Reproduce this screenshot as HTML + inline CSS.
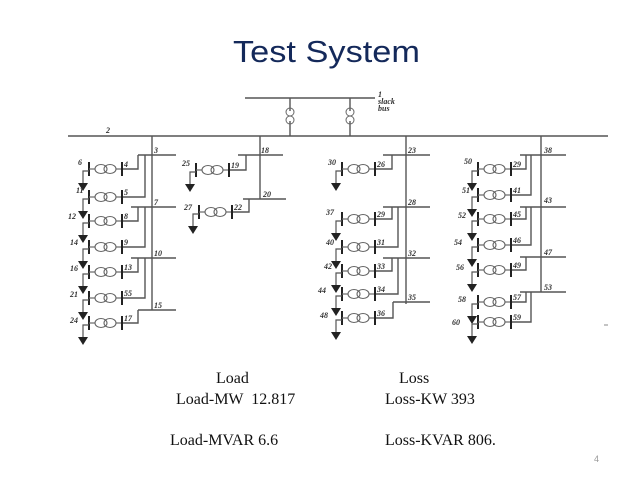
<!DOCTYPE html>
<html><head><meta charset="utf-8"><style>
html,body{margin:0;padding:0;background:#fff;}
svg{display:block}
.n{font-family:"Liberation Serif",serif;font-style:italic;font-weight:bold;font-size:8px;fill:#333}
.t{font-family:"Liberation Serif",serif;font-size:16px;fill:#111}
</style></head><body>
<svg width="638" height="479" viewBox="0 0 638 479" xmlns="http://www.w3.org/2000/svg">
<defs>
<g id="u">
<line x1="0" y1="-7" x2="0" y2="7" stroke="#222" stroke-width="2"/>
<line x1="0" y1="0" x2="6" y2="0" stroke="#666" stroke-width="1.2"/>
<ellipse cx="12" cy="0" rx="6" ry="4.5" fill="none" stroke="#666" stroke-width="1.1"/>
<ellipse cx="21" cy="0" rx="6" ry="4.5" fill="none" stroke="#666" stroke-width="1.1"/>
<line x1="27" y1="0" x2="33" y2="0" stroke="#666" stroke-width="1.2"/>
<line x1="33" y1="-7" x2="33" y2="7" stroke="#222" stroke-width="2"/>
<polyline points="0,2 -6,2 -6,14" fill="none" stroke="#555" stroke-width="1.2"/>
<polygon points="-11,14 -1,14 -6,22" fill="#222"/>
</g>
<g id="t">
<ellipse cx="0" cy="-4" rx="4" ry="4" fill="none" stroke="#666" stroke-width="1"/>
<ellipse cx="0" cy="4" rx="4" ry="4" fill="none" stroke="#666" stroke-width="1"/>
</g>
</defs>
<text x="233" y="62" textLength="187" lengthAdjust="spacingAndGlyphs" style="font-family:'Liberation Sans',sans-serif;font-size:31px;fill:#14295a">Test System</text>

<g stroke="#555" stroke-width="1.4" fill="none">
<line x1="245" y1="98" x2="375" y2="98"/>
<line x1="290" y1="98" x2="290" y2="111"/><line x1="290" y1="121" x2="290" y2="136"/>
<line x1="350" y1="98" x2="350" y2="111"/><line x1="350" y1="121" x2="350" y2="136"/>
<line x1="68" y1="136" x2="608" y2="136"/>
<line x1="152" y1="136" x2="152" y2="310"/>
<line x1="138" y1="155" x2="176" y2="155"/>
<line x1="131" y1="207" x2="176" y2="207"/>
<line x1="131" y1="258" x2="176" y2="258"/>
<line x1="138" y1="310" x2="176" y2="310"/>
<polyline points="122,169 138,169 138,155"/>
<polyline points="122,197 145,197 145,155"/>
<polyline points="122,221 138,221 138,207"/>
<polyline points="122,247 145,247 145,207"/>
<polyline points="122,272 138,272 138,258"/>
<polyline points="122,298 145,298 145,258"/>
<polyline points="122,323 138,323 138,310"/>
<line x1="260" y1="136" x2="260" y2="199"/>
<line x1="238" y1="155" x2="283" y2="155"/>
<line x1="243" y1="199" x2="286" y2="199"/>
<polyline points="229,170 246,170 246,155"/>
<polyline points="232,212 249,212 249,199"/>
<line x1="406" y1="136" x2="406" y2="304"/>
<line x1="383" y1="155" x2="430" y2="155"/>
<line x1="383" y1="207" x2="430" y2="207"/>
<line x1="383" y1="258" x2="430" y2="258"/>
<line x1="393" y1="302" x2="430" y2="302"/>
<polyline points="375,169 392,169 392,155"/>
<polyline points="375,219 392,219 392,207"/>
<polyline points="375,247 398,247 398,207"/>
<polyline points="375,271 392,271 392,258"/>
<polyline points="375,294 398,294 398,258"/>
<polyline points="375,318 393,318 393,302"/>
<line x1="541" y1="136" x2="541" y2="292"/>
<line x1="520" y1="155" x2="566" y2="155"/>
<line x1="520" y1="207" x2="566" y2="207"/>
<line x1="520" y1="257" x2="566" y2="257"/>
<line x1="520" y1="292" x2="566" y2="292"/>
<polyline points="511,169 526,169 526,155"/>
<polyline points="511,195 531,195 531,155"/>
<polyline points="511,219 526,219 526,207"/>
<polyline points="511,245 531,245 531,207"/>
<polyline points="511,270 526,270 526,257"/>
<polyline points="511,302 526,302 526,292"/>
<polyline points="511,322 531,322 531,292"/>
</g>
<use href="#t" x="290" y="116"/><use href="#t" x="350" y="116"/>

<use href="#u" x="89" y="169"/><use href="#u" x="89" y="197"/><use href="#u" x="89" y="221"/>
<use href="#u" x="89" y="247"/><use href="#u" x="89" y="272"/><use href="#u" x="89" y="298"/>
<use href="#u" x="89" y="323"/>
<use href="#u" x="196" y="170"/><use href="#u" x="199" y="212"/>
<use href="#u" x="342" y="169"/><use href="#u" x="342" y="219"/><use href="#u" x="342" y="247"/>
<use href="#u" x="342" y="271"/><use href="#u" x="342" y="294"/><use href="#u" x="342" y="318"/>
<use href="#u" x="478" y="169"/><use href="#u" x="478" y="195"/><use href="#u" x="478" y="219"/>
<use href="#u" x="478" y="245"/><use href="#u" x="478" y="270"/><use href="#u" x="478" y="302"/>
<use href="#u" x="478" y="322"/>

<g class="n">
<text x="378" y="97">1</text><text x="378" y="104">slack</text><text x="378" y="111">bus</text>
<text x="106" y="133">2</text>
<text x="154" y="153">3</text><text x="154" y="205">7</text><text x="154" y="256">10</text><text x="154" y="308">15</text>
<text x="78" y="165">6</text><text x="124" y="167">4</text>
<text x="76" y="193">11</text><text x="124" y="195">5</text>
<text x="68" y="219">12</text><text x="124" y="219">8</text>
<text x="70" y="245">14</text><text x="124" y="245">9</text>
<text x="70" y="271">16</text><text x="124" y="270">13</text>
<text x="70" y="297">21</text><text x="124" y="296">55</text>
<text x="70" y="323">24</text><text x="124" y="321">17</text>
<text x="261" y="153">18</text><text x="263" y="197">20</text>
<text x="182" y="166">25</text><text x="231" y="168">19</text>
<text x="184" y="210">27</text><text x="234" y="210">22</text>
<text x="408" y="153">23</text><text x="408" y="205">28</text><text x="408" y="256">32</text><text x="408" y="300">35</text>
<text x="328" y="165">30</text><text x="377" y="167">26</text>
<text x="326" y="215">37</text><text x="377" y="217">29</text>
<text x="326" y="245">40</text><text x="377" y="245">31</text>
<text x="324" y="269">42</text><text x="377" y="269">33</text>
<text x="318" y="293">44</text><text x="377" y="292">34</text>
<text x="320" y="318">48</text><text x="377" y="316">36</text>
<text x="544" y="153">38</text><text x="544" y="203">43</text><text x="544" y="255">47</text><text x="544" y="290">53</text>
<text x="464" y="164">50</text><text x="513" y="167">29</text>
<text x="462" y="193">51</text><text x="513" y="193">41</text>
<text x="458" y="218">52</text><text x="513" y="217">45</text>
<text x="454" y="245">54</text><text x="513" y="243">46</text>
<text x="456" y="270">56</text><text x="513" y="268">49</text>
<text x="458" y="302">58</text><text x="513" y="300">57</text>
<text x="452" y="325">60</text><text x="513" y="320">59</text>
</g>
<line x1="604" y1="325" x2="608" y2="325" stroke="#888"/>

<text class="t" x="216" y="383">Load</text>
<text class="t" x="176" y="404" xml:space="preserve">Load-MW  12.817</text>
<text class="t" x="170" y="445">Load-MVAR 6.6</text>
<text class="t" x="399" y="383">Loss</text>
<text class="t" x="385" y="404">Loss-KW 393</text>
<text class="t" x="385" y="445">Loss-KVAR 806.</text>
<text x="594" y="462" style="font-family:'Liberation Sans',sans-serif;font-size:9px;fill:#999">4</text>
</svg>
</body></html>
